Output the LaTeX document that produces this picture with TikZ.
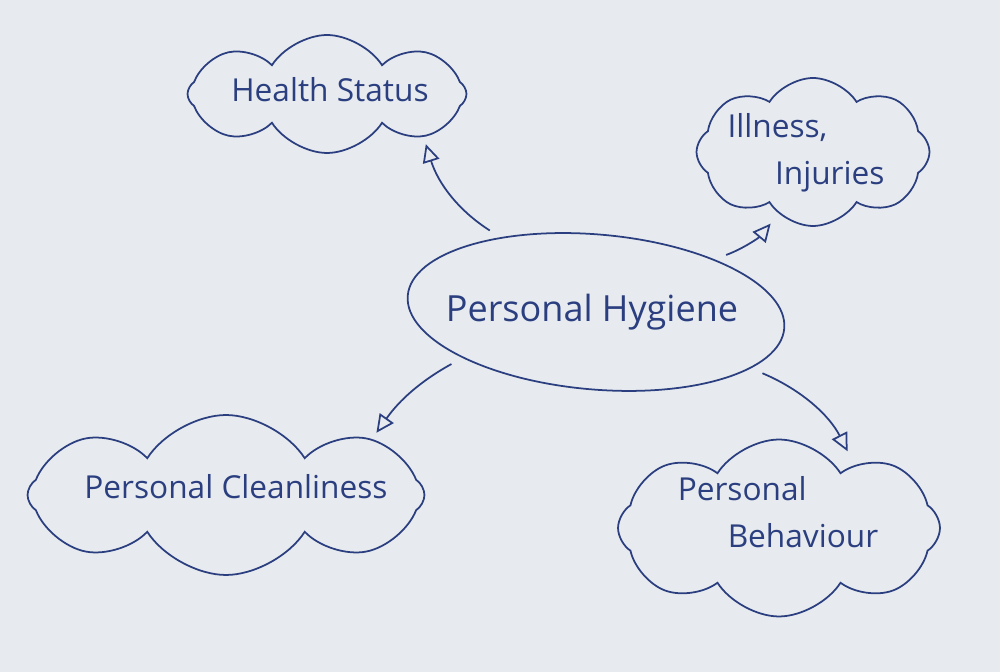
\documentclass[tikz,border=0pt]{standalone}
\usepackage{fontspec}
\setmainfont{Open Sans}
\usetikzlibrary{arrows.meta,shapes.geometric,shapes.symbols}
\definecolor{ink}{HTML}{2B3F80}
\definecolor{paper}{HTML}{E7EBEF}

\begin{document}
\begin{tikzpicture}[x=0.02cm,y=0.02cm,
  puff/.style={cloud,cloud puffs=8,cloud puff arc=115,cloud ignores aspect,draw=ink,line width=1pt,inner sep=0pt},
  hub/.style={ellipse,draw=ink,line width=1pt,inner sep=0pt,minimum width=7.56cm,minimum height=3.1cm,rotate=-5},
  txt/.style={text=ink,font=\fontsize{18}{27}\selectfont,align=left},
  arr/.style={-{Triangle[open,length=3.6mm,width=3.4mm]},line width=1pt,draw=ink,shorten <=0.25cm,shorten >=0.15cm},
]
  \fill[paper] (0,0) rectangle (1000,672);
  \useasboundingbox (0,0) rectangle (1000,672);
  \node[hub] (hyg) at (596,360) {};
  \node[txt,font=\fontsize{20.5}{27}\selectfont] (hygtxt) at (592,360) {Personal Hygiene};
  \node[puff,minimum width=5.58cm,minimum height=2.36cm] (health) at (327,578) {};
  \node[txt] (healthtxt) at (330,582) {Health Status};
  \node[puff,minimum width=4.66cm,minimum height=2.96cm] (ill) at (813,520) {};
  \node[txt] (illtxt) at (806,519) {Illness,\\\hspace*{0.95cm}Injuries};
  \node[puff,minimum width=7.94cm,minimum height=3.2cm] (clean) at (226,177) {};
  \node[txt] (cleantxt) at (236,185) {Personal Cleanliness};
  \node[puff,minimum width=6.44cm,minimum height=3.54cm] (behav) at (779,144) {};
  \node[txt] (behavtxt) at (778,160) {Personal\\\hspace*{1cm}Behaviour};
  \draw[arr] (hyg.147) to[bend left=20] (health.-24);
  \draw[arr,shorten >=0.25cm] (hyg.29) to[bend right=15] (ill.241);
  \draw[arr] (hyg.204) to[bend right=13] (clean.21);
  \draw[arr,shorten >=0.3cm] (hyg.-15) to[bend left=20] (behav.40);
\end{tikzpicture}
\end{document}
